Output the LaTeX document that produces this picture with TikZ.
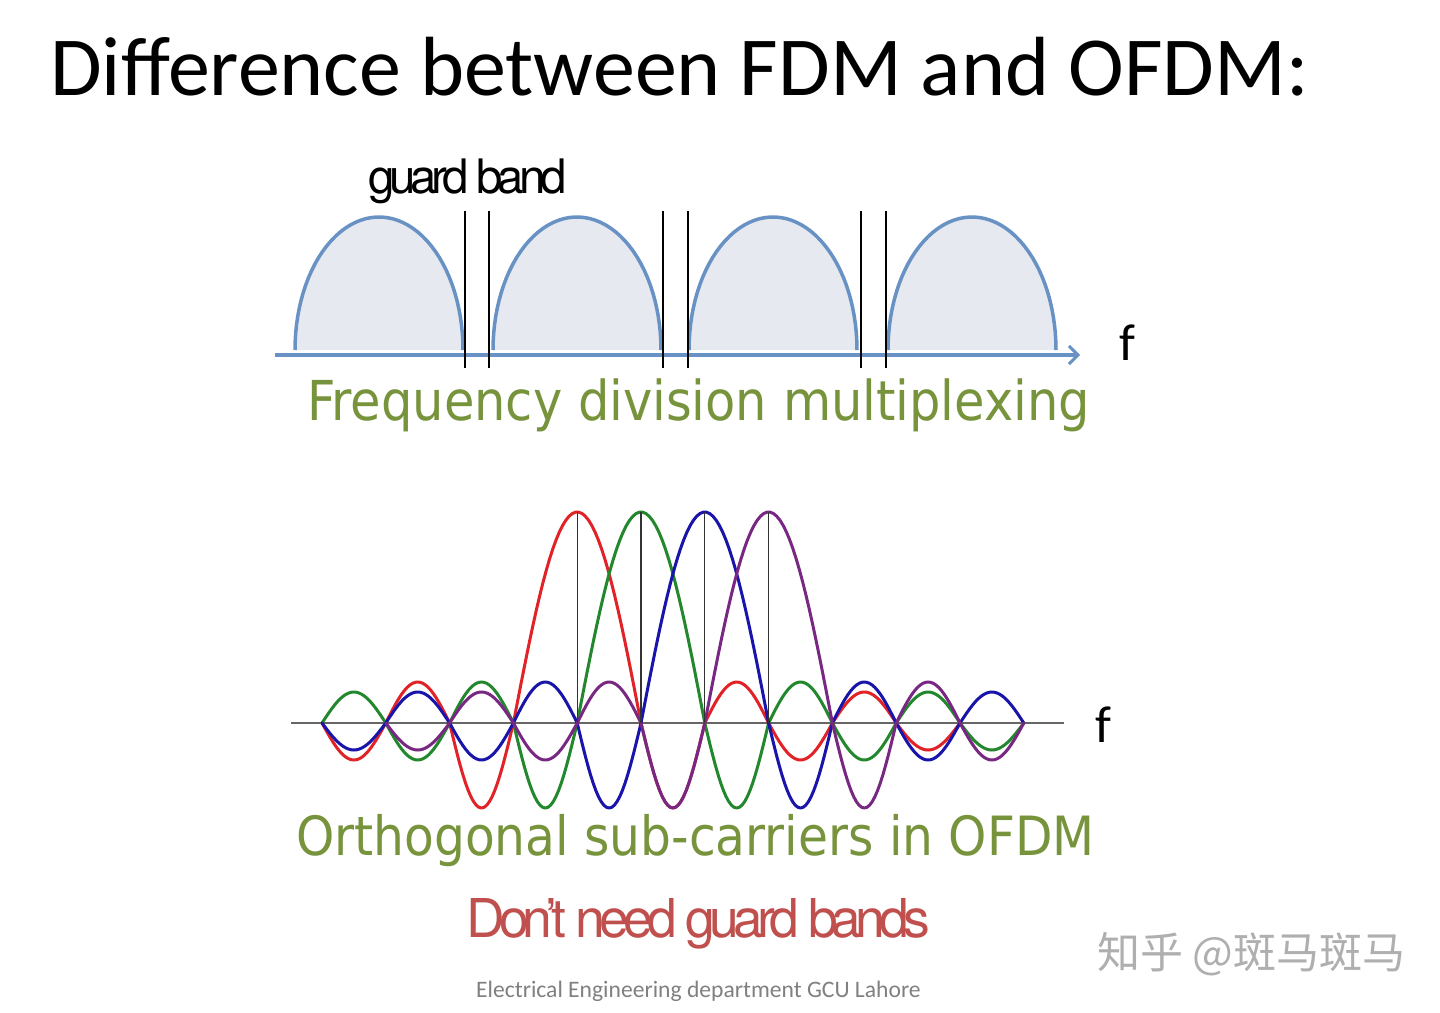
\documentclass[tikz,border=0pt]{standalone}
\usepackage{fontspec}
\setmainfont{Carlito}
\newfontfamily\helv[LetterSpace=-11]{TeX Gyre Heros}
\newfontfamily\tahoma{DejaVu Sans Condensed}
\newfontfamily\cjk{Noto Sans CJK SC}
\usepackage{tikz}
\usetikzlibrary{arrows.meta,positioning}
\definecolor{fdmblue}{RGB}{104,145,196}
\definecolor{humpfill}{RGB}{230,233,240}
\definecolor{olivegreen}{RGB}{119,147,60}
\definecolor{warnred}{RGB}{192,80,77}
\definecolor{footgray}{RGB}{128,128,128}
\definecolor{markgray}{RGB}{175,175,175}
\definecolor{cred}{RGB}{225,35,40}
\definecolor{cgreen}{RGB}{35,135,45}
\definecolor{cblue}{RGB}{25,20,170}
\definecolor{cpurple}{RGB}{120,40,130}
\tikzstyle{hump}=[draw=fdmblue,fill=humpfill,line width=3.5pt]
\tikzstyle{faxis}=[draw=fdmblue,line width=4pt]
\tikzstyle{guard}=[draw=black,line width=1.6pt]
\tikzstyle{oaxis}=[draw=black!60,line width=2pt]
\tikzstyle{peakline}=[draw=black!80,line width=1.2pt]
\tikzstyle{wave}=[line width=3pt,line join=round,line cap=round]
\tikzstyle{txt}=[inner sep=0pt,anchor=base west]

\begin{document}
\begin{tikzpicture}[x=1pt,y=-1pt]
\useasboundingbox[fill=white] (0,0) rectangle (1440,1012);

\node[txt,font=\fontsize{84}{84}\selectfont] (title) at (50,95) {Difference between FDM and OFDM:};

% FDM
\foreach \cx in {379,577,773,972}
  \filldraw[hump] plot[domain=180:0,samples=50] ({\cx+84*cos(\x)},{350-133*sin(\x)});
\coordinate (fstart) at (275,355);
\coordinate (fend) at (1080,355);
\draw[faxis,-{Straight Barb[length=9pt,width=18pt,line width=3pt]}] (fstart) -- (fend);
\foreach \gx in {465,489,663,688,861,886}
  \draw[guard] (\gx,211) -- (\gx,368);
\node[txt,font=\helv\fontsize{47.5}{47.5}\selectfont] (guard) at (368,193) {guard band};
\node[txt,font=\fontsize{52}{52}\selectfont] (f1) at (1119,360) {f};
\node[txt,font=\tahoma\fontsize{55}{55}\selectfont,text=olivegreen] (fdm) at (307,420) {Frequency division multiplexing};

% OFDM
\coordinate (ostart) at (291,723);
\coordinate (oend) at (1064,723);
\draw[oaxis] (ostart) -- (oend);
\foreach \p/\col/\lo/\hi in {4/cred/3/5,5/cgreen/4/5,6/cblue/5/4,7/cpurple/5/3} {
  \draw[wave,\col] plot[domain=-1:1,samples=40] ({322+63.8*(\p+\x)},{723-211*cos(90*\x)});
  \foreach \d/\a in {1/-85,2/41,3/-37,4/31,5/-27} {
    \ifnum\d>\hi\relax\else
      \draw[wave,\col] plot[domain=0:1,samples=25] ({322+63.8*(\p+\d+\x)},{723-\a*sin(180*\x)});
    \fi
    \ifnum\d>\lo\relax\else
      \draw[wave,\col] plot[domain=0:1,samples=25] ({322+63.8*(\p-\d-1+\x)},{723-\a*sin(180*\x)});
    \fi
  }
}
\foreach \p in {4,...,7}
  \draw[peakline] ({322+63.8*\p},512) -- ({322+63.8*\p},723);
\node[txt,font=\fontsize{52}{52}\selectfont] (f2) at (1095,742) {f};
\node[txt,font=\tahoma\fontsize{54.1}{54.1}\selectfont,text=olivegreen] (ofdm) at (296,855) {Orthogonal sub-carriers in OFDM};
\node[txt,font=\helv\fontsize{53.5}{53.5}\selectfont,text=warnred] (noguard) at (466,937) {Don’t need guard bands};
\node[txt,font=\fontsize{23.6}{23.6}\selectfont,text=footgray] (foot) at (476,997) {Electrical Engineering department GCU Lahore};
\node[txt,font=\cjk\fontsize{43}{43}\selectfont,text=markgray] (mark) at (1097,968) {知乎 @斑马斑马};
\end{tikzpicture}
\end{document}
